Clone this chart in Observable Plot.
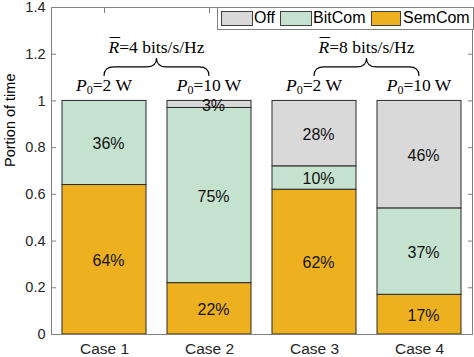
<!DOCTYPE html>
<html><head><meta charset="utf-8">
<script src="https://cdn.jsdelivr.net/npm/d3@7"></script>
<script src="https://cdn.jsdelivr.net/npm/@observablehq/plot@0.6"></script>
<style>
body{margin:0;background:#fff;}
#wrap{position:relative;width:474px;height:357px;font-family:"Liberation Sans",Arial,sans-serif;}
#legend{position:absolute;left:217px;top:7px;width:255px;height:21px;border:1px solid #808080;background:#fff;font-size:16px;color:#000;}
#legend .sw{position:absolute;top:3px;height:13px;border:1px solid #404040;}
#legend .lb{position:absolute;top:1px;line-height:18px;}
</style></head>
<body><div id="wrap"></div>
<script>
const cases = ["Case 1","Case 2","Case 3","Case 4"];
const series = ["SemCom","BitCom","Off"];
const colors = ["#EDB120","#C4E2CD","#D9D9D9"];
const semCom = [0.64,0.22,0.62,0.17];
const bitCom = [0.36,0.75,0.10,0.37];
const off = [0.00,0.03,0.28,0.46];
const pctSem = ["64%","22%","62%","17%"];
const pctBit = ["36%","75%","10%","37%"];
const pctOff = ["","3%","28%","46%"];
const yTicks = [0,0.2,0.4,0.6,0.8,1,1.2,1.4];
const rates = ["4","8"];
const powers = ["2","10","2","10"];
const legendOrder = ["Off","BitCom","SemCom"];

const rows = [];
cases.forEach((c,i)=>{
  rows.push({c, s:"SemCom", v:semCom[i], t:pctSem[i]});
  rows.push({c, s:"BitCom", v:bitCom[i], t:pctBit[i]});
  rows.push({c, s:"Off", v:off[i], t:pctOff[i]});
});
const ax = "#808080";
const plot = Plot.plot({
  width:474, height:357,
  marginLeft:51, marginRight:2, marginTop:7, marginBottom:23,
  style:{fontFamily:"Liberation Sans, Arial, sans-serif", fontSize:"14px", color:"#262626", background:"#fff"},
  x:{domain:cases, paddingInner:0.2, paddingOuter:0.1, label:null},
  y:{domain:[0,1.4], label:null},
  color:{domain:series, range:colors},
  marks:[
    Plot.barY(rows, Plot.stackY({x:"c", y:"v", fill:"s", order:series, stroke:"#2a2a2a", strokeWidth:1})),
    Plot.text(rows.filter(d=>d.v>0), Plot.stackY({x:"c", y:"v", z:"s", order:series, text:"t", dx:4, dy:1, fontSize:16, fill:"#111"})),
    Plot.frame({stroke:ax, strokeWidth:1}),
    Plot.axisY(yTicks, {tickSize:-5, tickPadding:11, tickFormat:d=>String(d), fontSize:14.5, stroke:ax}),
    Plot.axisY(yTicks, {anchor:"right", tickSize:-5, tickFormat:()=>"", stroke:ax}),
    Plot.axisX({anchor:"top", tickSize:-5, tickFormat:()=>"", stroke:ax}),
    Plot.axisX({anchor:"bottom", tickSize:0, tickPadding:8, fontSize:15.5}),
    Plot.text(["Portion of time"], {frameAnchor:"left", dx:-41, dy:-4, rotate:-90, fontSize:14.5, fill:"#000"})
  ]
});
document.getElementById("wrap").appendChild(plot);

// annotations using the plot's scales
const sx = plot.scale("x"), sy = plot.scale("y");
const bw = sx.bandwidth !== undefined ? sx.bandwidth : 0;
const xs = c => sx.apply(c) + bw/2;
const svg = d3.select(plot);
const g = svg.append("g").attr("font-family","Liberation Serif, Times New Roman, serif").attr("font-size",17.5).attr("fill","#000");
cases.forEach((c,i)=>{
  const t = g.append("text").attr("x",xs(c)).attr("y",sy.apply(1.04)).attr("text-anchor","middle");
  t.append("tspan").attr("font-style","italic").text("P");
  t.append("tspan").attr("font-size",12).attr("dy",3).text("0");
  t.append("tspan").attr("dy",-3).text("=" + powers[i] + " W");
});
rates.forEach((r,k)=>{
  const x0 = xs(cases[2*k]), x1 = xs(cases[2*k+1]), xm = (x0+x1)/2;
  const yb = sy.apply(1.105), yt = yb - 9, yc = yt - 9;
  const p = `M${x0},${yb} Q${x0},${yt} ${x0+10},${yt} L${xm-10},${yt} Q${xm},${yt} ${xm},${yc} Q${xm},${yt} ${xm+10},${yt} L${x1-10},${yt} Q${x1},${yt} ${x1},${yb}`;
  svg.append("path").attr("d",p).attr("fill","none").attr("stroke","#000").attr("stroke-width",1.1);
  const t = g.append("text").attr("x",xm).attr("y",sy.apply(1.205)).attr("text-anchor","middle");
  t.append("tspan").attr("font-style","italic").text("R");
  t.append("tspan").text("=" + r + " bits/s/Hz");
  const e = t.node().getExtentOfChar(0);
  svg.append("line").attr("x1",e.x+1).attr("x2",e.x+e.width+1).attr("y1",e.y+1).attr("y2",e.y+1).attr("stroke","#000").attr("stroke-width",1);
});

// legend
const lg = document.createElement("div");
lg.id = "legend";
const swX = [3, 62, 153], lbX = [36, 95, 185], swW = [30, 30, 28];
legendOrder.forEach((s,i)=>{
  const sw = document.createElement("span"); sw.className="sw";
  sw.style.left = swX[i]+"px"; sw.style.width = swW[i]+"px";
  sw.style.background = colors[series.indexOf(s)];
  const lb = document.createElement("span"); lb.className="lb"; lb.style.left = lbX[i]+"px"; lb.textContent = s;
  lg.appendChild(sw); lg.appendChild(lb);
});
document.getElementById("wrap").appendChild(lg);
</script></body></html>
